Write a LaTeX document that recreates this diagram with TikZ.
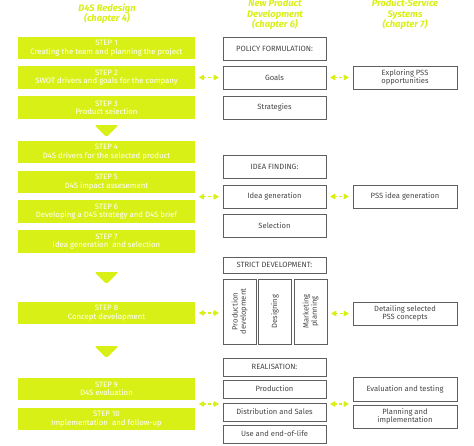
\documentclass[tikz,border=0pt]{standalone}
\usepackage{fontspec}
\setmainfont{Fira Sans}
\usetikzlibrary{arrows.meta,calc,shapes.geometric}
\definecolor{lime}{RGB}{217,240,22}
\definecolor{boxline}{RGB}{95,95,95}
\definecolor{boxtext}{RGB}{70,70,70}
\begin{document}
\begin{tikzpicture}[x=1pt,y=-1pt,
  stepbox/.style={fill=lime,text=white,minimum width=177pt,minimum height=22.5pt,
    inner sep=0pt,align=center,font=\fontsize{7.8}{8.3}\selectfont},
  midbox/.style={draw=boxline,line width=0.8pt,text=boxtext,minimum width=103pt,
    minimum height=23pt,inner sep=0pt,align=center,font=\fontsize{7.6}{8.3}\selectfont},
  subbox/.style={midbox,minimum width=33pt,minimum height=65pt},
  sublabel/.style={rotate=90,align=center,text=boxtext,font=\fontsize{7.6}{8.3}\selectfont},
  pssbox/.style={midbox,minimum width=104pt},
  head/.style={text=lime,align=center,font=\fontsize{9.4}{10.5}\selectfont\bfseries\itshape},
  downtri/.style={isosceles triangle,isosceles triangle apex angle=90,shape border rotate=270,
    fill=lime,rounded corners=1.5pt,inner sep=0pt,minimum width=17pt,minimum height=12pt},
  link/.style={draw=lime,line width=1.4pt,dash pattern=on 2.5pt off 2pt,
    {Latex[round,length=6pt,width=7pt]}-{Latex[round,length=6pt,width=7pt]},
    shorten <=4pt,shorten >=4pt}]
\useasboundingbox (0,0) rectangle (474,445);
\node[head] (hd4s) at (107,13.5) {D4S Redesign\\(chapter 4)};
\node[head] (hnpd) at (275,14.5) {New Product\\Development\\(chapter 6)};
\node[head] (hpss) at (405,14.5) {Product-Service\\Systems\\(chapter 7)};
\node[stepbox] (s1) at (106.5,48) {STEP 1\\Creating the team and planning the project};
\node[stepbox] (s2) at (106.5,77.5) {STEP 2\\SWOT drivers and goals for the company};
\node[stepbox] (s3) at (106.5,107.5) {STEP 3\\Product selection};
\node[downtri] (t1) at (106.5,130) {};
\node[stepbox] (s4) at (106.5,152) {STEP 4\\D4S drivers for the selected product};
\node[stepbox] (s5) at (106.5,182) {STEP 5\\D4S impact assesement};
\node[stepbox] (s6) at (106.5,211.5) {STEP 6\\Developing a D4S strategy and D4S brief};
\node[stepbox] (s7) at (106.5,241.5) {STEP 7\\Idea generation\ \ and selection};
\node[downtri] (t2) at (106.5,277) {};
\node[stepbox] (s8) at (106.5,313) {STEP 8\\Concept development};
\node[downtri] (t3) at (106.5,351) {};
\node[stepbox] (s9) at (106.5,389) {STEP 9\\D4S evaluation};
\node[stepbox] (s10) at (106.5,419) {STEP 10\\Implementation\ \ and follow-up};
\node[midbox] (policy) at (274.5,48.5) {POLICY FORMULATION:};
\node[midbox] (goals) at (274.5,77.5) {Goals};
\node[midbox] (strat) at (274.5,107.5) {Strategies};
\node[midbox] (ideafind) at (274.5,166.5) {IDEA FINDING:};
\node[midbox] (ideagen) at (274.5,196.5) {Idea generation};
\node[midbox] (select) at (274.5,226) {Selection};
\node[midbox,minimum height=16pt] (strict) at (274.5,265) {STRICT DEVELOPMENT:};
\node[subbox] (prodev) at (239.5,311.5) {};
\node[sublabel] (prodevt) at (prodev) {Production\\development};
\node[subbox] (design) at (275,311.5) {};
\node[sublabel] (designt) at (design) {Designing};
\node[subbox] (market) at (310.5,311.5) {};
\node[sublabel] (markett) at (market) {Marketing\\planning};
\node[midbox,minimum height=18pt] (real) at (274.5,367) {REALISATION:};
\node[midbox,minimum height=18pt] (prod) at (274.5,389) {Production};
\node[midbox,minimum height=18pt] (dist) at (274.5,412) {Distribution and Sales};
\node[midbox,minimum height=18pt] (use) at (274.5,434) {Use and end-of-life};
\node[pssbox] (explore) at (405,77.5) {Exploring PSS\\opportunities};
\node[pssbox] (pssidea) at (405,196.5) {PSS idea generation};
\node[pssbox] (detail) at (405,313.5) {Detailing selected\\PSS concepts};
\node[pssbox,minimum height=24pt] (evalt) at (405,389) {Evaluation and testing};
\node[pssbox] (plan) at (405,416.5) {Planning and\\implementation};
\coordinate (s56) at ($(s5.south east)!0.5!(s6.north east)$);
\coordinate (s910) at ($(s9.south east)!0.5!(s10.north east)$);
\draw[link] (s2.east) -- (goals.west);
\draw[link] (goals.east) -- (explore.west);
\draw[link] (s56) -- (s56 -| ideagen.west);
\draw[link] (ideagen.east) -- (pssidea.west);
\draw[link] (s8.east) -- (s8.east -| prodev.west);
\draw[link] (detail.west -| market.east) -- (detail.west);
\draw[link] (s910) -- (s910 -| prod.west);
\draw[link] (s910 -| prod.east) -- (s910 -| evalt.west);
\end{tikzpicture}
\end{document}
